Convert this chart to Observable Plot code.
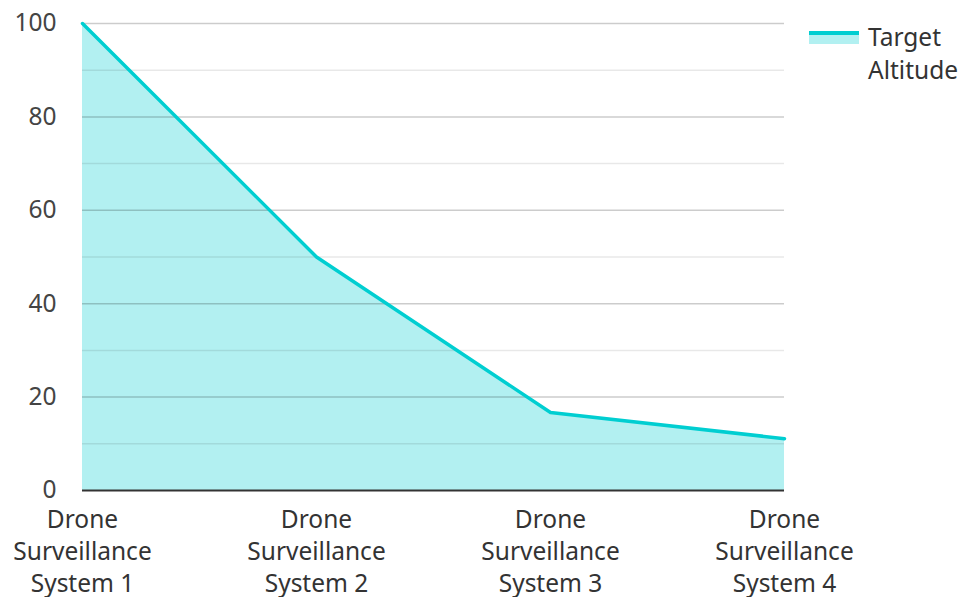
<!DOCTYPE html>
<html>
<head>
<meta charset="utf-8">
<script src="https://cdn.jsdelivr.net/npm/d3@7"></script>
<script src="https://cdn.jsdelivr.net/npm/@observablehq/plot@0.6"></script>
<style>
  html, body { margin: 0; padding: 0; background: #fff; }
  #wrap { position: relative; width: 963px; height: 597px; font-family: "Noto Sans", "Open Sans", sans-serif; }
  #legend { position: absolute; left: 809px; top: 20px; display: flex; align-items: flex-start; font-size: 24.5px; color: #333; line-height: 33px; }
  #legend .sw { width: 50px; height: 13px; margin-top: 11px; margin-right: 9px; background: rgba(0,206,209,0.3); border-top: 4px solid #00CED1; box-sizing: border-box; }
</style>
</head>
<body>
<div id="wrap"></div>
<script>
const categories = ["Drone Surveillance System 1", "Drone Surveillance System 2", "Drone Surveillance System 3", "Drone Surveillance System 4"];
const values = [100, 50, 16.7, 11.1];
const seriesName = "Target Altitude";
const yTicks = [0, 20, 40, 60, 80, 100];
const minorGrid = [10, 30, 50, 70, 90];
const majorGrid = [20, 40, 60, 80, 100];

const data = categories.map((c, i) => ({category: c, value: values[i]}));

const chart = Plot.plot({
  width: 963,
  height: 597,
  marginLeft: 82,
  marginRight: 179,
  marginTop: 23,
  marginBottom: 107,
  style: {fontFamily: "'Noto Sans', 'Open Sans', sans-serif", fontSize: "24.5px", color: "#333", background: "#fff"},
  x: {type: "point", domain: categories, padding: 0, label: null},
  y: {domain: [0, 100], label: null},
  marks: [
    Plot.areaY(data, {x: "category", y: "value", fill: "#00CED1", fillOpacity: 0.3}),
    Plot.ruleY(minorGrid, {stroke: "#000", strokeOpacity: 0.09, strokeWidth: 1.5}),
    Plot.ruleY(majorGrid, {stroke: "#000", strokeOpacity: 0.2, strokeWidth: 1.5}),
    Plot.lineY(data, {x: "category", y: "value", stroke: "#00CED1", strokeWidth: 3.5}),
    Plot.ruleY([0], {stroke: "#333", strokeWidth: 2}),
    Plot.axisY({ticks: yTicks, tickSize: 0, tickPadding: 26, fontSize: 24.5, fill: "#444"}),
    Plot.axisX({tickSize: 0, tickPadding: 15, fontSize: 24.5, fill: "#333", lineHeight: 1.31,
      tickFormat: d => d.replace(" Surveillance ", "\nSurveillance\n")})
  ]
});
document.getElementById("wrap").appendChild(chart);
const lg = document.createElement("div");
lg.id = "legend";
lg.innerHTML = `<div class="sw"></div><div>${seriesName.replace(" ", "<br>")}</div>`;
document.getElementById("wrap").appendChild(lg);
</script>
</body>
</html>
